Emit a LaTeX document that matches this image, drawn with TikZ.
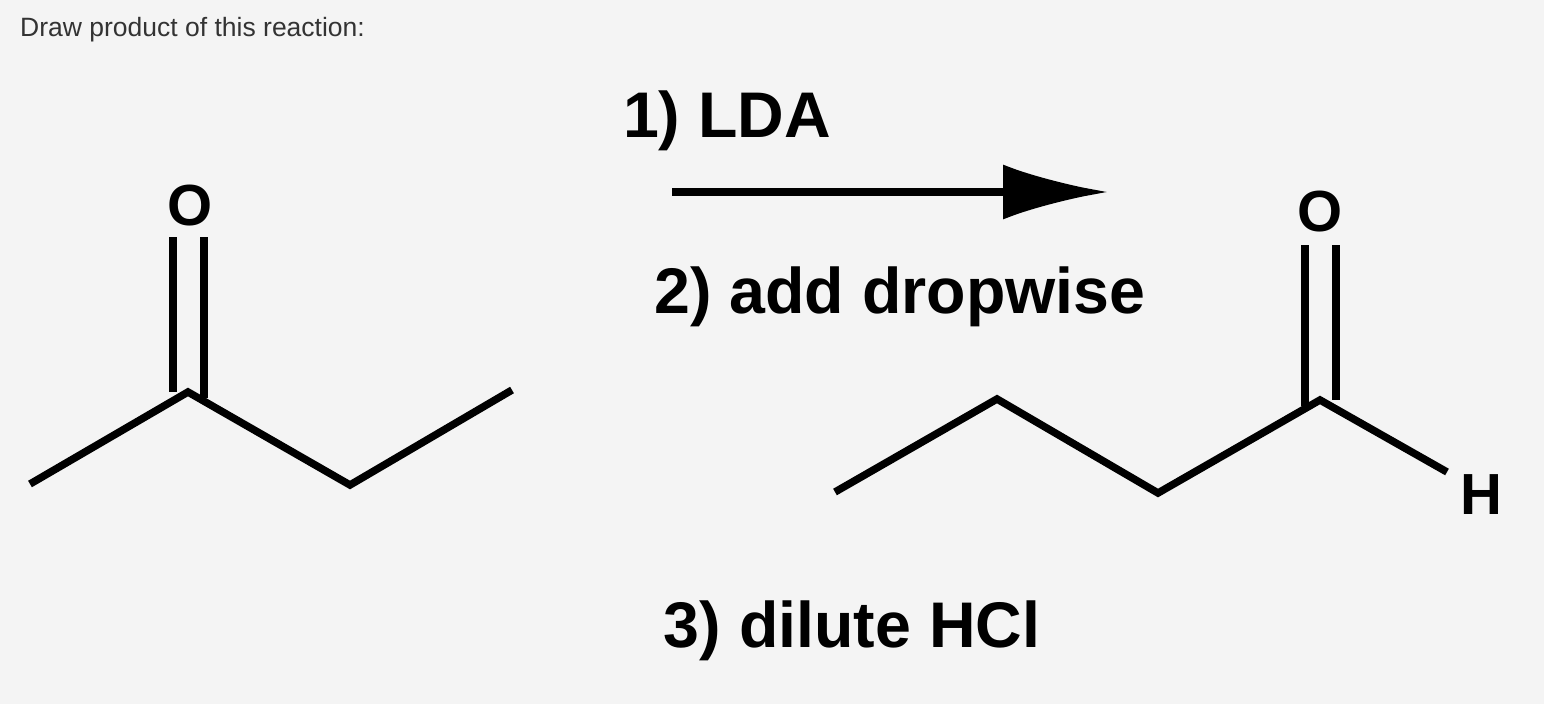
\documentclass[tikz,border=0pt]{standalone}
\usepackage{fontspec}
\setmainfont{Liberation Sans}
\usetikzlibrary{arrows.meta}
\definecolor{bg}{HTML}{F4F4F4}
\definecolor{ttl}{HTML}{333333}
\begin{document}
\begin{tikzpicture}[x=1pt,y=-1pt,
  bond/.style={line width=7.5pt,line cap=butt,line join=miter},
  atom/.style={font=\fontsize{58}{62}\selectfont\bfseries,inner sep=0pt},
  reag/.style={font=\fontsize{64.5}{70}\selectfont\bfseries,inner sep=0pt}]
\fill[bg] (0,0) rectangle (1544,704);
\useasboundingbox (0,0) rectangle (1544,704);
\node[anchor=west,text=ttl,font=\fontsize{26.5}{30}\selectfont,inner sep=0pt] (title) at (20,30) {Draw product of this reaction:};
% left
\coordinate (a1) at (30,484); \coordinate (a2) at (188,392);
\coordinate (a3) at (350,485); \coordinate (a4) at (512,390);
\draw[bond] (a1) -- (a2) -- (a3) -- (a4);
\node[atom] (o1) at (190,206) {O};
\draw[bond] (173,237) -- (173,392);
\draw[bond] (204,237) -- (204,398);
% arrow
\coordinate (s) at (672,192); \coordinate (e) at (1108,192);
\draw[line width=7.5pt,-{Latex[length=105pt,width=55pt]}] (s) -- (e);
\node[reag] (r1) at (727,121) {1) LDA};
\node[reag] (r2) at (900,297) {2) add dropwise};
\node[reag] (r3) at (852,631) {3) dilute HCl};
% right
\coordinate (b1) at (835,492); \coordinate (b2) at (997,399);
\coordinate (b3) at (1158,493); \coordinate (b4) at (1320,400);
\coordinate (b5) at (1447,472);
\draw[bond] (b1) -- (b2) -- (b3) -- (b4) -- (b5);
\draw[bond] (1305,245) -- (1305,406);
\draw[bond] (1336,245) -- (1336,400);
\node[atom] (o2) at (1320,212) {O};
\node[atom] (h) at (1481,495) {H};
\end{tikzpicture}
\end{document}
